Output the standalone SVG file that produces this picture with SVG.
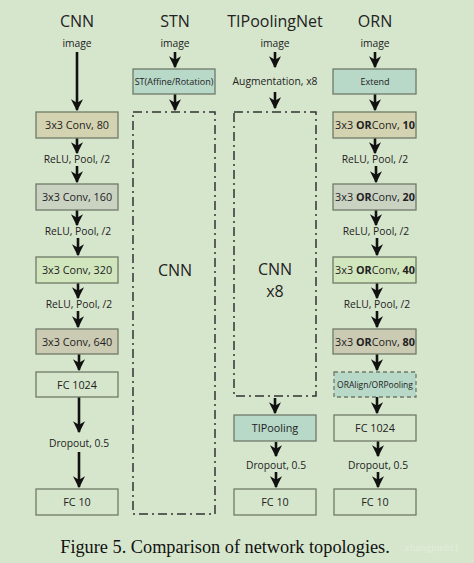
<svg xmlns="http://www.w3.org/2000/svg" width="474" height="563" viewBox="0 0 474 563">
<defs>
<marker id="ah" viewBox="0 0 10 10" refX="9" refY="5" markerWidth="12" markerHeight="12" markerUnits="userSpaceOnUse" orient="auto">
<path d="M0,0 L10,5 L0,10 L3,5 z" fill="#111"/>
</marker>
<style>
.t{font-family:"Open Sans","Noto Sans",sans-serif;fill:#222;text-anchor:middle}
.h{font-size:16px}
.s{font-size:10.3px}
.b{font-size:10.8px}
.box{stroke:#6f7a68;stroke-width:1.3}
.fc{fill:#d6e6cc}
.tan{fill:#d4d3b1}
.gry{fill:#cad2c2}
.grn{fill:#d2e6be}
.tan2{fill:#cbcab2}
.teal{fill:#b8d8c8}
.dd{fill:none;stroke:#333;stroke-width:1.5;stroke-dasharray:9 4 2 4}
.ar{stroke:#111;stroke-width:2.6;fill:none;marker-end:url(#ah)}
</style>
</defs>
<rect width="474" height="563" fill="#d6e6cc"/>

<g id="titles">
<text class="t h" x="77" y="27">CNN</text>
<text class="t h" x="175" y="27">STN</text>
<text class="t h" x="275" y="27">TIPoolingNet</text>
<text class="t h" x="375" y="27">ORN</text>
<text class="t s" x="77" y="47">image</text>
<text class="t s" x="175" y="47">image</text>
<text class="t s" x="275" y="47">image</text>
<text class="t s" x="375" y="47">image</text>
</g>

<g id="connectors">
<line class="ar" x1="77" y1="52" x2="77" y2="110"/>
<line class="ar" x1="77" y1="138" x2="77" y2="153"/>
<line class="ar" x1="77" y1="166" x2="77" y2="182"/>
<line class="ar" x1="77" y1="210" x2="77" y2="225"/>
<line class="ar" x1="78" y1="238" x2="78" y2="255"/>
<line class="ar" x1="78" y1="283" x2="78" y2="298"/>
<line class="ar" x1="78" y1="311" x2="78" y2="327"/>
<line class="ar" x1="79" y1="354" x2="79" y2="370"/>
<line class="ar" x1="79" y1="397" x2="79" y2="432"/>
<line class="ar" x1="79" y1="452" x2="79" y2="487"/>
<line class="ar" x1="175" y1="52" x2="175" y2="67"/>
<line class="ar" x1="175" y1="94" x2="175" y2="110"/>
<line class="ar" x1="275" y1="52" x2="275" y2="67"/>
<line class="ar" x1="275" y1="92" x2="275" y2="108"/>
<line class="ar" x1="275" y1="398" x2="275" y2="413"/>
<line class="ar" x1="276" y1="442" x2="276" y2="456"/>
<line class="ar" x1="276" y1="472" x2="276" y2="487"/>
<line class="ar" x1="375" y1="52" x2="375" y2="67"/>
<line class="ar" x1="375" y1="94" x2="375" y2="110"/>
<line class="ar" x1="375" y1="138" x2="375" y2="153"/>
<line class="ar" x1="376" y1="166" x2="376" y2="182"/>
<line class="ar" x1="376" y1="210" x2="376" y2="225"/>
<line class="ar" x1="377" y1="238" x2="377" y2="255"/>
<line class="ar" x1="377" y1="283" x2="377" y2="298"/>
<line class="ar" x1="377" y1="311" x2="377" y2="327"/>
<line class="ar" x1="377" y1="354" x2="377" y2="370"/>
<line class="ar" x1="377" y1="397" x2="377" y2="413"/>
<line class="ar" x1="378" y1="441" x2="378" y2="456"/>
<line class="ar" x1="378" y1="472" x2="378" y2="487"/>
</g>

<g id="cnn-labels">
<text class="t s" x="77" y="163">ReLU, Pool, /2</text>
<text class="t s" x="78" y="235">ReLU, Pool, /2</text>
<text class="t s" x="79" y="308">ReLU, Pool, /2</text>
<text class="t s" x="79" y="447">Dropout, 0.5</text>
</g>
<g id="cnn-conv80"><rect class="box tan" x="36" y="112" width="82" height="26"/><text class="t b" x="77" y="129">3x3 Conv, 80</text></g>
<g id="cnn-conv160"><rect class="box gry" x="36" y="184" width="82" height="26"/><text class="t b" x="77" y="201">3x3 Conv, 160</text></g>
<g id="cnn-conv320"><rect class="box grn" x="36" y="257" width="82" height="26"/><text class="t b" x="77" y="274">3x3 Conv, 320</text></g>
<g id="cnn-conv640"><rect class="box tan2" x="36" y="329" width="82" height="25"/><text class="t b" x="77" y="346">3x3 Conv, 640</text></g>
<g id="cnn-fc1024"><rect class="box fc" x="36" y="372" width="82" height="25"/><text class="t b" x="77" y="389">FC 1024</text></g>
<g id="cnn-fc10"><rect class="box fc" x="36" y="489" width="82" height="26"/><text class="t b" x="77" y="506">FC 10</text></g>

<g id="stn-st"><rect class="box teal" x="133" y="69" width="82" height="25"/><text class="t" style="font-size:9px" x="174" y="85">ST(Affine/Rotation)</text></g>
<g id="stn-cnn"><rect class="dd" x="133" y="112" width="82" height="402"/><text class="t h" x="175" y="276">CNN</text></g>

<g id="tip-aug"><text class="t s" x="275" y="85">Augmentation, x8</text></g>
<g id="tip-cnn"><rect class="dd" x="234" y="112" width="82" height="284"/><text class="t h" x="275" y="275">CNN</text><text class="t h" x="275" y="297">x8</text></g>
<g id="tip-pool"><rect class="box teal" x="234" y="415" width="82" height="26"/><text class="t b" x="275" y="432">TIPooling</text></g>
<g id="tip-drop"><text class="t s" x="276" y="469">Dropout, 0.5</text></g>
<g id="tip-fc10"><rect class="box fc" x="234" y="489" width="82" height="26"/><text class="t b" x="275" y="506">FC 10</text></g>

<g id="orn-extend"><rect class="box teal" x="333" y="69" width="83" height="25"/><text class="t" style="font-size:9px" x="375" y="85">Extend</text></g>
<g id="orn-conv10"><rect class="box tan" x="333" y="112" width="83" height="26"/><text class="t b" x="375" y="129">3x3 <tspan font-weight="bold">OR</tspan>Conv, <tspan font-weight="bold">10</tspan></text></g>
<g id="orn-conv20"><rect class="box gry" x="333" y="184" width="83" height="26"/><text class="t b" x="375" y="201">3x3 <tspan font-weight="bold">OR</tspan>Conv, <tspan font-weight="bold">20</tspan></text></g>
<g id="orn-conv40"><rect class="box grn" x="333" y="257" width="83" height="26"/><text class="t b" x="375" y="274">3x3 <tspan font-weight="bold">OR</tspan>Conv, <tspan font-weight="bold">40</tspan></text></g>
<g id="orn-conv80"><rect class="box tan2" x="333" y="329" width="83" height="25"/><text class="t b" x="375" y="346">3x3 <tspan font-weight="bold">OR</tspan>Conv, <tspan font-weight="bold">80</tspan></text></g>
<g id="orn-labels">
<text class="t s" x="375" y="163">ReLU, Pool, /2</text>
<text class="t s" x="376" y="235">ReLU, Pool, /2</text>
<text class="t s" x="377" y="308">ReLU, Pool, /2</text>
<text class="t s" x="378" y="469">Dropout, 0.5</text>
</g>
<g id="orn-align"><rect class="box teal" style="stroke-dasharray:4 3" x="334" y="372" width="82" height="25"/><text class="t" style="font-size:8.5px" x="375" y="388">ORAlign/ORPooling</text></g>
<g id="orn-fc1024"><rect class="box fc" x="334" y="415" width="82" height="26"/><text class="t b" x="375" y="432">FC 1024</text></g>
<g id="orn-fc10"><rect class="box fc" x="334" y="489" width="82" height="26"/><text class="t b" x="375" y="506">FC 10</text></g>

<g id="caption">
<text x="225" y="553" style="font-family:'Liberation Serif',serif;font-size:18.3px;fill:#111;text-anchor:middle">Figure 5. Comparison of network topologies.</text>
<text x="432" y="551" style="font-family:'Liberation Serif',serif;font-size:11px;fill:#e2ecdc;text-anchor:middle">zhangjunhi1</text>
</g>
</svg>
